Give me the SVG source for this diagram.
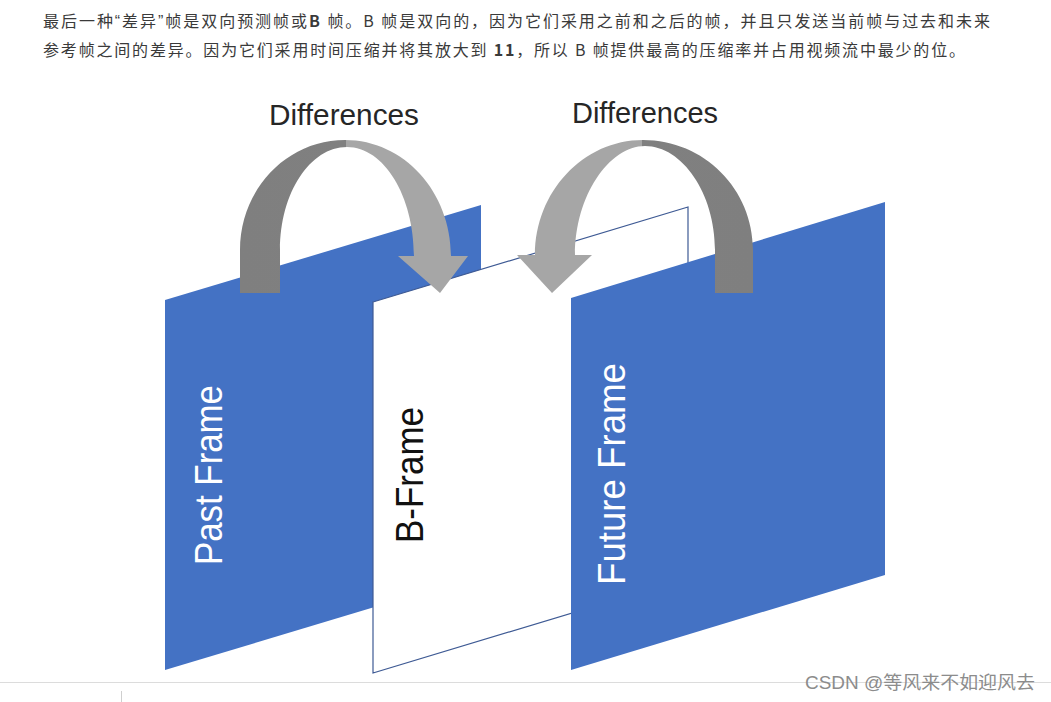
<svg xmlns="http://www.w3.org/2000/svg" width="1051" height="702" viewBox="0 0 1051 702">
  <defs>
    <linearGradient id="gLeft" gradientUnits="userSpaceOnUse" x1="240" y1="0" x2="468" y2="0">
      <stop offset="0" stop-color="#7f7f7f"/>
      <stop offset="0.463" stop-color="#808080"/>
      <stop offset="0.463" stop-color="#a6a6a6"/>
      <stop offset="1" stop-color="#a6a6a6"/>
    </linearGradient>
    <linearGradient id="gRight" gradientUnits="userSpaceOnUse" x1="517" y1="0" x2="753" y2="0">
      <stop offset="0" stop-color="#a6a6a6"/>
      <stop offset="0.53" stop-color="#a6a6a6"/>
      <stop offset="0.53" stop-color="#808080"/>
      <stop offset="1" stop-color="#7f7f7f"/>
    </linearGradient>
  </defs>
  <style>
    .hdr { font-family: "Noto Sans CJK SC", "Noto Sans", sans-serif; font-size: 16px; fill: #3a3a3a; }
    .lat { font-family: "Liberation Sans", Arial, sans-serif; }
    .blue { fill: #4472c4; }
    .white { fill: #ffffff; stroke: #3e5a94; stroke-width: 1.2; }
    .diff { font-family: "Liberation Sans", Arial, sans-serif; font-size: 29px; fill: #262626; text-anchor: middle; }
    .vlab { font-family: "Liberation Sans", Arial, sans-serif; font-size: 38px; }
    .wm { font-family: "Liberation Sans", "Noto Sans CJK SC", sans-serif; font-size: 18px; fill: #8c8c8c; }
  </style>
  <rect width="1051" height="702" fill="#ffffff"/>

  <g id="header">
    <text class="hdr" x="43" y="27" textLength="947" lengthAdjust="spacing">最后一种<tspan class="lat">“</tspan>差异<tspan class="lat">”</tspan>帧是双向预测帧或<tspan font-weight="bold">B</tspan> 帧。B 帧是双向的，因为它们采用之前和之后的帧，并且只发送当前帧与过去和未来</text>
    <text class="hdr" x="43" y="56" textLength="922" lengthAdjust="spacing">参考帧之间的差异。因为它们采用时间压缩并将其放大到 <tspan font-weight="bold">11</tspan>，所以 B 帧提供最高的压缩率并占用视频流中最少的位。</text>
  </g>

  <g id="past-frame">
    <polygon class="blue" points="165,300 481,205 481,575 165,670"/>
    <text class="vlab" fill="#ffffff" transform="translate(222,565) rotate(-90)" textLength="180" lengthAdjust="spacingAndGlyphs">Past Frame</text>
  </g>

  <g id="b-frame">
    <polygon class="white" points="373,302 688,207 688,578 373,673"/>
    <text class="vlab" fill="#111111" transform="translate(423,543) rotate(-90)" textLength="136" lengthAdjust="spacingAndGlyphs">B-Frame</text>
  </g>

  <g id="future-frame">
    <polygon class="blue" points="571,298 885,202 885,575 571,670"/>
    <text class="vlab" fill="#ffffff" transform="translate(625,585) rotate(-90)" textLength="222" lengthAdjust="spacingAndGlyphs">Future Frame</text>
  </g>

  <g id="connectors">
    <path id="arrow-past-to-b" fill="url(#gLeft)" d="M240,293 L240,250 C240,189 287,140 345,140 C404,140 451,192 451,256 L468,256 L440,293 L398,256 L414,256 C414,196 384,147 347,147 C310,147 280,193 280,250 L280,293 Z"/>
    <path id="arrow-future-to-b" fill="url(#gRight)" d="M753,293 L753,250 C753,189 704,140 643,140 C583,140 535,192 535,255 L517,255 L552,293 L592,255 L575,255 C575,196 609,146 645,146 C682,146 715,193 715,250 L715,293 Z"/>
    <text class="diff" x="344" y="125" textLength="150" lengthAdjust="spacingAndGlyphs">Differences</text>
    <text class="diff" x="645" y="123" textLength="146" lengthAdjust="spacingAndGlyphs">Differences</text>
  </g>

  <g id="footer">
    <line x1="0" y1="682.5" x2="1051" y2="682.5" stroke="#dcdcdc" stroke-width="1"/>
    <line x1="121.5" y1="691" x2="121.5" y2="702" stroke="#cfcfcf" stroke-width="1"/>
    <text class="wm" x="805" y="689" textLength="230" lengthAdjust="spacingAndGlyphs">CSDN @等风来不如迎风去</text>
  </g>
</svg>
